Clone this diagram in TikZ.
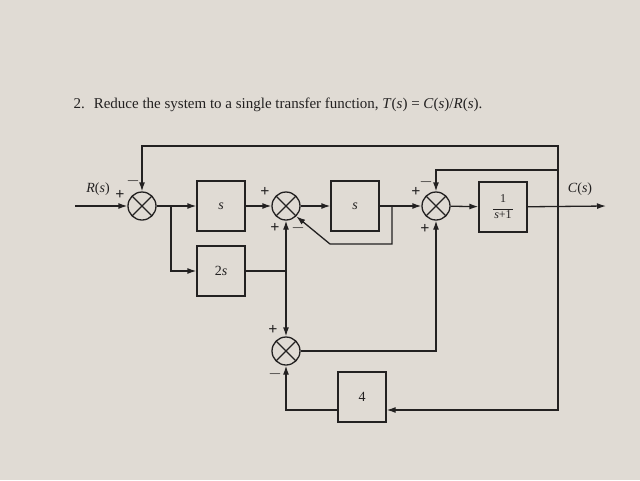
\documentclass[tikz,border=0pt]{standalone}
\usepackage{fontspec}
\setmainfont{Liberation Serif}
\usetikzlibrary{arrows.meta}
\definecolor{paper}{RGB}{224,219,212}
\definecolor{ink}{RGB}{35,33,33}
\begin{document}
\begin{tikzpicture}[x=1pt,y=-1pt,
  blk/.style={draw=ink,line width=1.3pt,minimum width=48pt,minimum height=50pt,inner sep=0pt,text=ink,font=\fontsize{14}{16}\selectfont},
  sum/.style={draw=ink,line width=1.3pt,circle,minimum size=28pt,inner sep=0pt,path picture={\draw[ink,line width=1.3pt] (path picture bounding box.north west)--(path picture bounding box.south east) (path picture bounding box.north east)--(path picture bounding box.south west);}},
  ln/.style={draw=ink,line width=1.3pt},
  ar/.style={ln,-{Latex[length=9pt,width=6pt]}},
  sg/.style={font=\bfseries\fontsize{16}{16}\selectfont,text=ink,inner sep=0pt}]
\fill[paper] (0,0) rectangle (640,480);
\useasboundingbox (0,0) rectangle (640,480);
\node[anchor=base west,font=\fontsize{15}{17}\selectfont,text=ink] (title) at (70,108) {2.\hspace{9pt}Reduce the system to a single transfer function, \textit{T}(\textit{s}) = \textit{C}(\textit{s})/\textit{R}(\textit{s}).};
\node[sum] (s1) at (142,206) {};
\node[sum] (s2) at (286,206) {};
\node[sum] (s3) at (436,206) {};
\node[sum] (s4) at (286,351) {};
\node[blk] (b1) at (221,206) {\textit{s}};
\node[blk] (b2) at (355,206) {\textit{s}};
\node[blk,align=center,font=\fontsize{12}{11}\selectfont] (b3) at (503,207) {1\\[-4pt]\rule{20pt}{0.8pt}\\[-2pt]\textit{s}+1};
\node[blk] (b4) at (221,271) {2\textit{s}};
\node[blk] (b5) at (362,397) {4};
\coordinate (rin) at (75,206);
\coordinate (cout) at (606,206);
\coordinate (j1) at (171,206);
\coordinate (j2) at (286,271);
\coordinate (j3) at (392,206);
\coordinate (jo) at (558,206);
\node[font=\fontsize{14}{16}\selectfont,text=ink] (rl) at (98,189) {\textit{R}(\textit{s})};
\node[font=\fontsize{14}{16}\selectfont,text=ink] (cl) at (580,189) {\textit{C}(\textit{s})};
\draw[ar] (rin) -- (s1);
\draw[ar] (s1) -- (b1);
\draw[ar] (j1) |- (b4.west);
\draw[ar] (b1) -- (s2);
\draw[ar] (s2) -- (b2);
\draw[ar] (b2) -- (s3);
\draw[ar] (s3) -- (b3);
\draw[ar] (b3) -- (cout);
\draw[ln] (b4.east) -- (j2);
\draw[ar] (j2) -- (s2);
\draw[ar] (j2) -- (s4);
\draw[ar] (j3) -- (392,244) -- (330,244) -- (s2.south east);
\draw[ar] (s4.east) -| (s3);
\draw[ar] (jo) -- (558,146) -| (s1);
\draw[ar] (558,170) -| (s3);
\draw[ar] (jo) -- (558,410) -- (b5.east |- 0,410);
\draw[ar] (b5.west |- 0,410) -| (s4);
\node[sg] at (120,195) {+};
\node[sg] at (133,181) {$-$};
\node[sg] at (265,192) {+};
\node[sg] at (275,228) {+};
\node[sg] at (298,228) {$-$};
\node[sg] at (416,192) {+};
\node[sg] at (426,182) {$-$};
\node[sg] at (425,229) {+};
\node[sg] at (273,330) {+};
\node[sg] at (275,374) {$-$};
\end{tikzpicture}
\end{document}
